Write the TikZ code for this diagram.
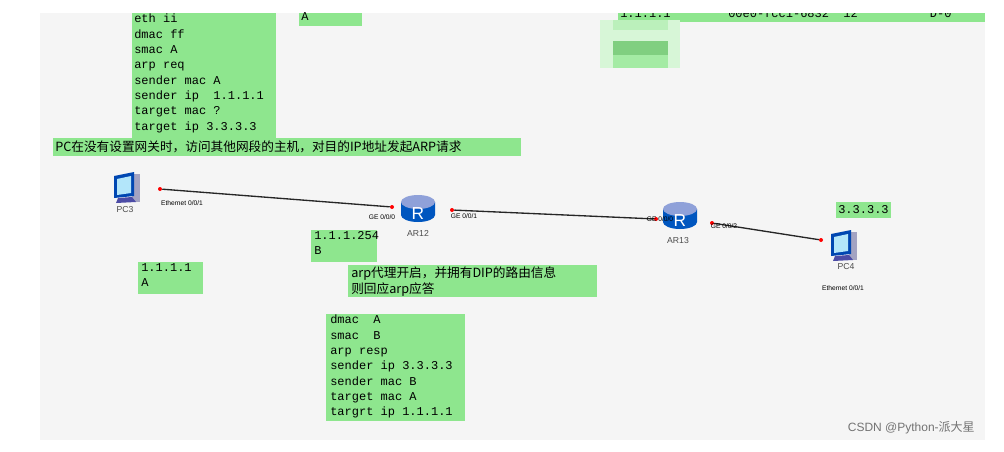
\documentclass[tikz,border=0pt]{standalone}
\usepackage{fontspec}
\setmonofont{Liberation Mono}
\setsansfont{Liberation Sans}
\newfontfamily\cjk{Noto Sans CJK SC}
\begin{document}
\begin{tikzpicture}[x=0.75pt,y=-0.75pt,
  mono/.style={font=\ttfamily\fontsize{9}{11.5}\selectfont, align=left, anchor=north west, inner sep=0pt},
  lbl/.style={font=\sffamily\fontsize{5}{6}\selectfont, inner sep=0pt},
  nm/.style={font=\sffamily\fontsize{6.5}{7}\selectfont, text=black!70, inner sep=0pt},
  dot/.style={circle, fill=red, inner sep=0pt, minimum size=3pt},
  link/.style={line width=1pt, black!85}]
\definecolor{gbg}{HTML}{8EE68E}
\useasboundingbox (0,0) rectangle (1004,451);
\fill[white] (0,0) rectangle (1004,451);
\fill[black!4] (40,13) rectangle (985,440);
% top boxes
\fill[gbg] (132,13) rectangle (276,138);
\node[mono] (req) at (134,14) {eth ii\\dmac ff\\smac A\\arp req\\sender mac A\\sender ip~~1.1.1.1\\target mac ?\\target ip 3.3.3.3};
\fill[gbg] (299,13) rectangle (362,26);
\node[mono] (topa) at (301,12) {A};
\begin{scope}
\clip (618,13) rectangle (985,22);
\fill[gbg] (618,13) rectangle (985,22);
\node[mono, anchor=west] (tbl) at (620,13) {1.1.1.1~~~~~~~~00e0-fcc1-6832~~12~~~~~~~~~~D-0};
\end{scope}
% blurred patch
\fill[gbg!35] (600,20) rectangle (680,68);
\fill[gbg!60] (613,20) rectangle (668,30);
\fill[gbg!90!black] (613,41) rectangle (668,55);
\fill[gbg!80] (613,55) rectangle (668,68);
% caption
\fill[gbg] (53,138) rectangle (521,156);
\node[font=\cjk\fontsize{9.5}{11}\selectfont, anchor=west, inner sep=0pt] (cap) at (55,147) {PC在没有设置网关时，访问其他网段的主机，对目的IP地址发起ARP请求};
% device coordinates
\coordinate (pc3) at (126,188);
\coordinate (ar12) at (418,207);
\coordinate (ar13) at (680,214);
\coordinate (pc4) at (843,246);
% links
\node[dot] (d1) at (160,189) {};
\node[dot] (d2) at (392,207) {};
\node[dot] (d3) at (452,210) {};
\node[dot] (d4) at (656,219) {};
\node[dot] (d5) at (712,223) {};
\node[dot] (d6) at (821,240) {};
\draw[link] (d1) -- (d2);
\draw[link] (d3) -- (d4);
\draw[link] (d5) -- (d6);
% devices
\newcommand\pcicon[2]{%
  \begin{scope}[shift={(#1,#2)}]
  \fill[blue!20!gray!60] (6,-14) rectangle (14,14);
  \fill[blue!60!cyan!70!black] (-12,-12) -- (8,-16) -- (8,8) -- (-12,10) -- cycle;
  \fill[cyan!30] (-9,-9) -- (5,-12) -- (5,5) -- (-9,7) -- cycle;
  \fill[blue!50!black!70] (-8,10) -- (6,9) -- (10,14) -- (-10,15) -- cycle;
  \end{scope}}
\newcommand\routericon[2]{%
  \begin{scope}[shift={(#1,#2)}]
  \fill[blue!55!cyan!75!black] (-17,-5) -- (-17,8) arc (180:0:17 and 7) -- (17,-5) -- cycle;
  \fill[cyan!35!blue!45] (0,-5) ellipse (17 and 7);
  \node[text=white, font=\sffamily\fontsize{13}{13}\selectfont] at (0,7) {R};
  \end{scope}}
\pcicon{126}{188}
\node[nm] (pc3l) at (125,210) {PC3};
\routericon{418}{207}
\node[nm] (ar12l) at (418,233) {AR12};
\routericon{680}{214}
\node[nm] (ar13l) at (678,241) {AR13};
\pcicon{843}{246}
\node[nm] (pc4l) at (846,267) {PC4};
\node[lbl] (e1) at (182,203) {Ethernet 0/0/1};
\node[lbl] (g1) at (382,217) {GE 0/0/0};
\node[lbl] (g2) at (464,216) {GE 0/0/1};
\node[lbl] (g3) at (660,219) {GE 0/0/0};
\node[lbl] (g4) at (724,226) {GE 0/0/2};
\node[lbl] (e2) at (843,288) {Ethernet 0/0/1};
% labels boxes
\fill[gbg] (836,202) rectangle (891,218);
\node[mono, anchor=west] (ip4) at (838,210) {3.3.3.3};
\fill[gbg] (311,230) rectangle (377,262);
\node[mono] (ip12) at (314,231) {1.1.1.254\\B};
\fill[gbg] (138,262) rectangle (203,294);
\node[mono] (ip3) at (141,263) {1.1.1.1\\A};
\fill[gbg] (348,265) rectangle (597,297);
\node[font=\cjk\fontsize{9.5}{12}\selectfont, align=left, anchor=north west, inner sep=0pt] (proxy) at (351,266) {arp代理开启，并拥有DIP的路由信息\\则回应arp应答};
\fill[gbg] (326,314) rectangle (465,421);
\node[mono] (resp) at (330,315) {dmac~~A\\smac~~B\\arp resp\\sender ip 3.3.3.3\\sender mac B\\target mac A\\targrt ip 1.1.1.1};
\node[font=\sffamily\fontsize{9}{10}\selectfont, text=black!55, anchor=east, inner sep=0pt] (wm) at (975,428) {CSDN @Python-{\cjk 派大星}};
\end{tikzpicture}
\end{document}
